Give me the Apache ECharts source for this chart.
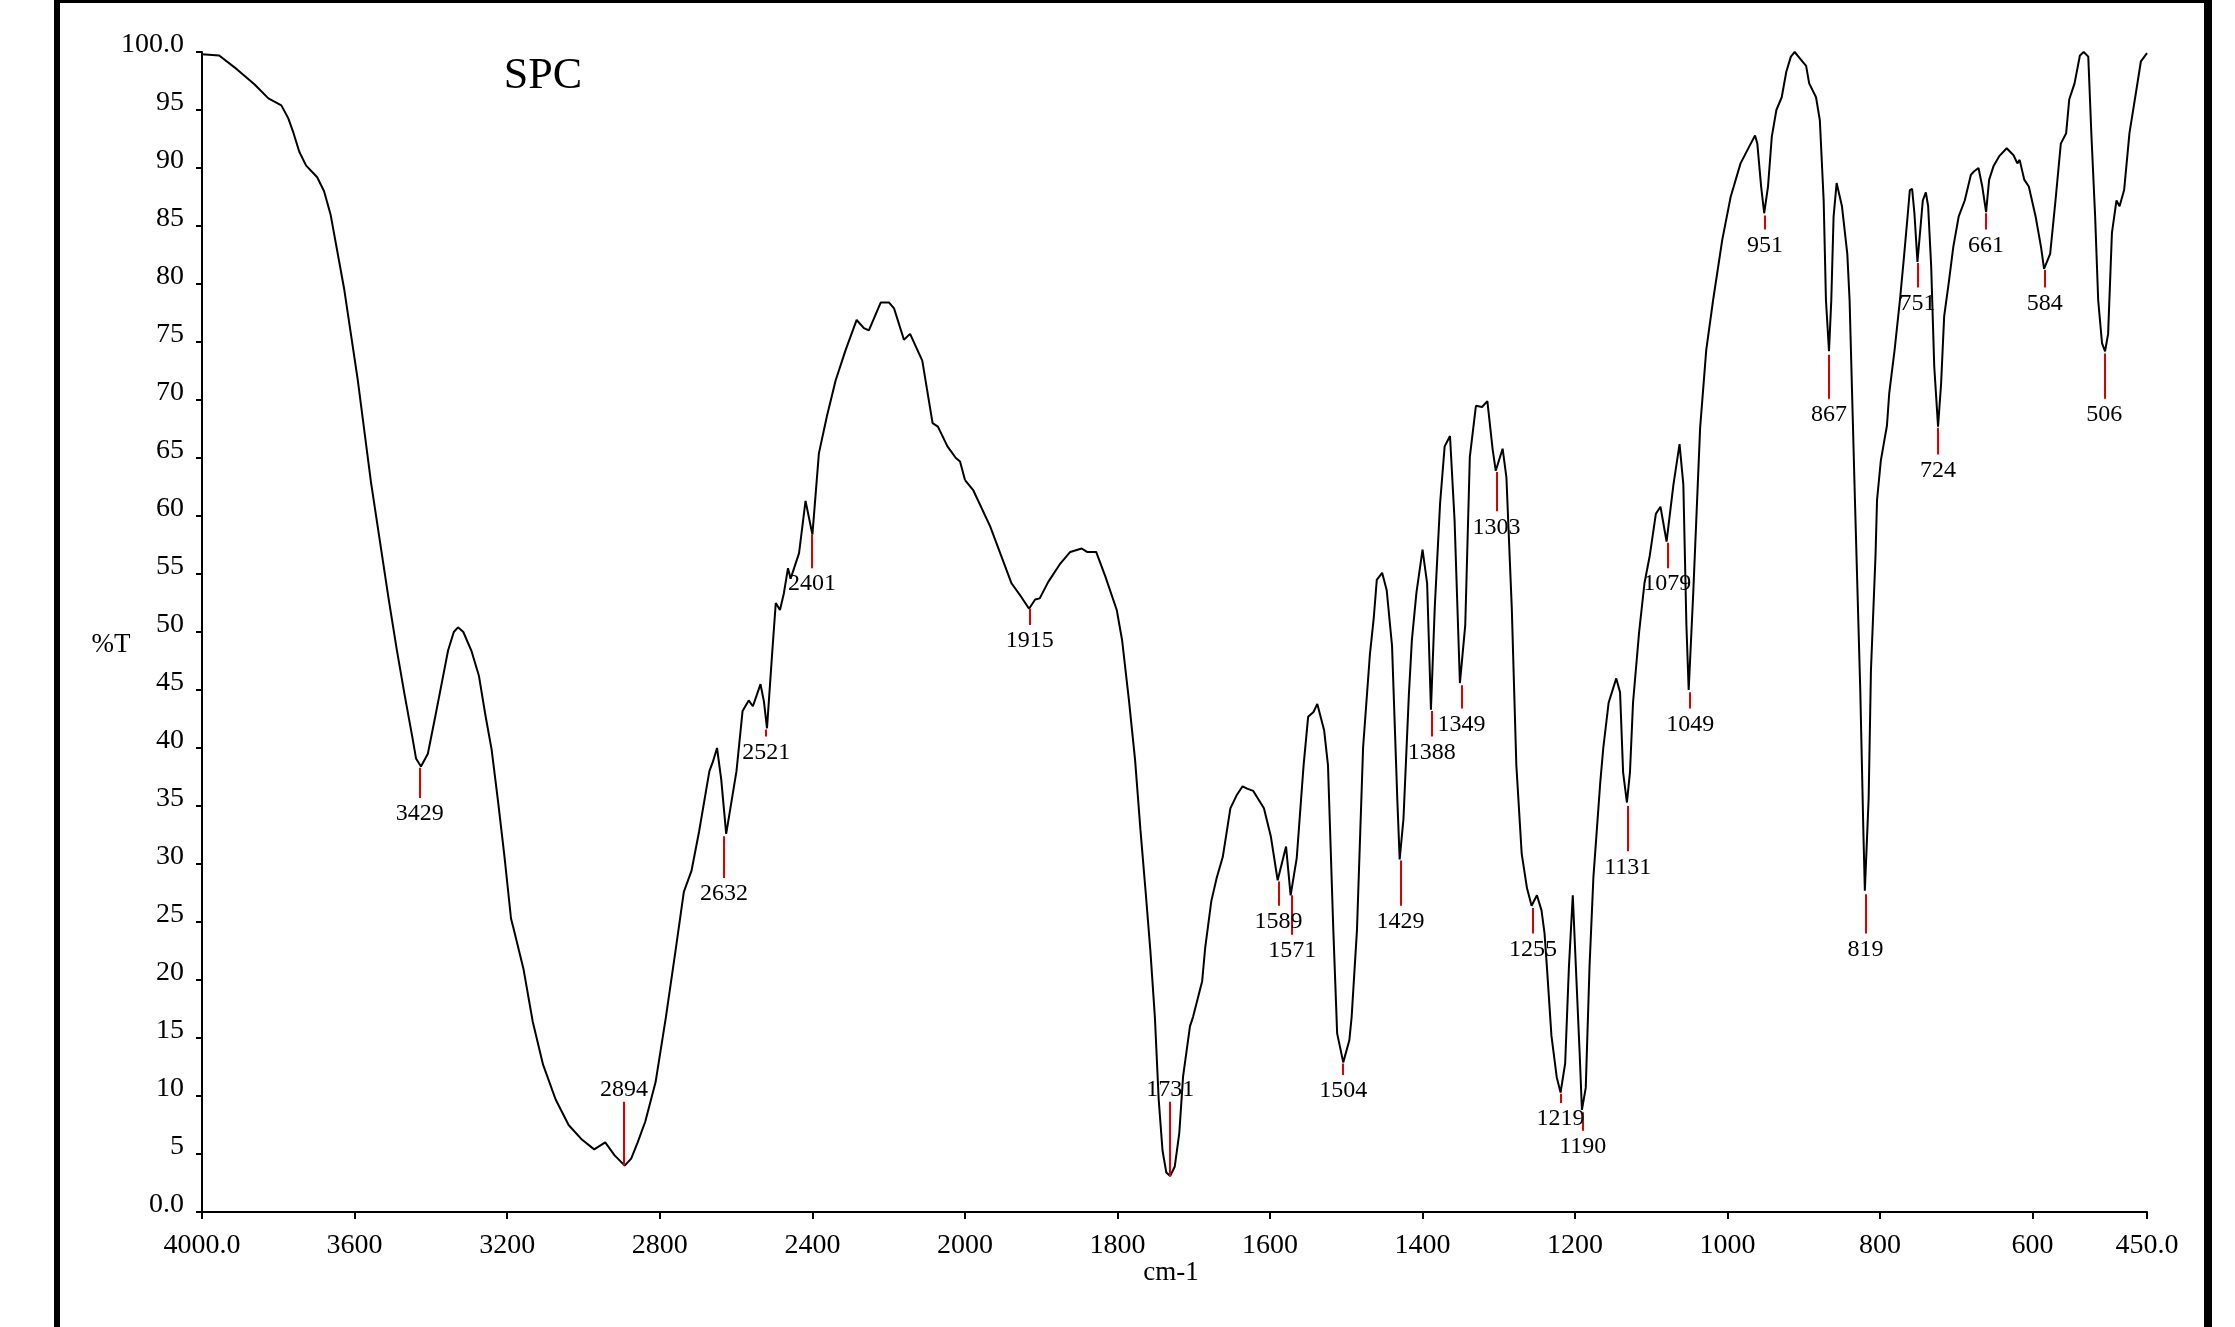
<!DOCTYPE html>
<html>
<head>
<meta charset="utf-8">
<title>SPC</title>
<script src="https://cdn.jsdelivr.net/npm/echarts@6/dist/echarts.min.js"></script>
<style>
  html, body { margin: 0; padding: 0; background: #fff; }
  #chart { width: 2235px; height: 1327px; }
</style>
</head>
<body>
<div id="chart"></div>
<script>
"use strict";
// spectrum, wavenumber (cm-1) and %T
var wavenumber = [
    4000, 3955, 3908, 3862, 3826, 3792, 3774, 3760, 3745, 3727, 3698, 3680, 3663, 3627, 3592, 3557, 3511, 3489,
    3469, 3449, 3439, 3426, 3408, 3388, 3368, 3355, 3340, 3329, 3315, 3294, 3274, 3257, 3241, 3224, 3207, 3190,
    3183, 3157, 3133, 3106, 3073, 3039, 3006, 2972, 2943, 2919, 2892, 2875, 2858, 2838, 2811, 2784, 2758, 2737,
    2717, 2697, 2670, 2661, 2650, 2639, 2626, 2612, 2599, 2583, 2567, 2556, 2536, 2527, 2519, 2514, 2505, 2496,
    2485, 2475, 2464, 2457, 2435, 2418, 2400, 2383, 2362, 2339, 2313, 2284, 2265, 2252, 2221, 2199, 2186, 2160,
    2144, 2112, 2085, 2071, 2046, 2024, 2013, 2000,
    1989, 1967, 1939, 1926, 1916, 1908, 1902, 1891, 1875, 1862, 1847, 1840, 1828, 1816, 1801, 1794, 1785, 1777,
    1770, 1763, 1757, 1751, 1746, 1741, 1736, 1731, 1725, 1719, 1714, 1705, 1701, 1689, 1685, 1677, 1670, 1662,
    1652, 1644, 1636, 1630, 1622, 1608, 1599, 1590, 1579, 1573, 1565, 1556, 1550, 1543, 1538, 1529, 1524, 1517,
    1512, 1504, 1496, 1493, 1486, 1478, 1469, 1464, 1460, 1453, 1447, 1440, 1433, 1430, 1425, 1418, 1414, 1408,
    1400, 1394, 1389, 1384, 1377, 1371, 1364, 1358, 1351, 1344, 1338, 1330, 1322, 1315, 1308, 1304, 1295, 1290,
    1283, 1277, 1270, 1263, 1257, 1250, 1244, 1240, 1237, 1231, 1224, 1219, 1213, 1208, 1203, 1199, 1194, 1191,
    1186, 1181, 1176, 1167, 1163, 1156, 1146, 1141, 1137, 1132, 1128, 1124, 1116, 1109, 1102, 1094, 1088, 1080,
    1071, 1063, 1058, 1054, 1051, 1045, 1036, 1028, 1019, 1007, 996, 983, 972, 964, 961, 956, 952, 947,
    942, 936, 929, 923, 917, 912, 902, 897, 893, 884, 879, 874, 871, 867, 864, 861, 857, 850,
    843, 840, 833, 826, 822, 820, 815, 812, 806, 804, 799, 791, 788, 781, 774, 769, 764, 761,
    758, 755, 751, 747, 744, 740, 737, 733, 729, 724, 720, 716, 710, 704, 697, 689, 681, 677,
    671, 666, 661, 657, 651, 644, 634, 625, 620, 617, 611, 605, 596, 589, 585, 577, 570, 563,
    556, 552, 545, 538, 533, 527, 523, 518, 514, 509, 505, 501, 496, 490, 486, 480, 473, 464,
    458, 450
];
var transmittance = [
    99.8, 99.7, 98.5, 97.2, 96.0, 95.4, 94.3, 93.0, 91.4, 90.2, 89.2, 88.0, 86.0, 79.5, 71.8, 62.9, 52.9, 48.4,
    44.6, 41.0, 39.1, 38.4, 39.5, 42.8, 46.2, 48.4, 50.0, 50.4, 50.0, 48.4, 46.2, 42.8, 39.9, 35.4, 30.6, 25.3,
    24.4, 20.9, 16.4, 12.7, 9.7, 7.5, 6.3, 5.4, 6.0, 4.9, 4.0, 4.6, 6.0, 7.8, 11.2, 16.8, 22.7, 27.6,
    29.4, 32.8, 38.0, 38.8, 40.0, 37.3, 32.6, 35.4, 38.0, 43.2, 44.1, 43.6, 45.5, 44.0, 41.7, 44.1, 48.4, 52.5,
    51.9, 53.3, 55.5, 54.6, 56.8, 61.3, 58.4, 65.4, 68.6, 71.7, 74.3, 76.9, 76.2, 76.0, 78.4, 78.4, 77.9, 75.2,
    75.7, 73.4, 68.0, 67.7, 66.0, 65.0, 64.7, 63.1,
    62.2, 59.1, 54.2, 53.0, 52.0, 52.8, 52.9, 54.3, 55.9, 56.9, 57.2, 56.9, 56.9, 54.8, 51.9, 49.3, 44.1, 39.0,
    33.0, 27.5, 22.6, 16.8, 9.7, 5.3, 3.4, 3.1, 3.9, 6.8, 11.7, 16.0, 16.8, 19.9, 22.8, 26.8, 28.8, 30.6,
    34.8, 35.9, 36.7, 36.5, 36.3, 34.8, 32.4, 28.6, 31.5, 27.3, 30.5, 38.5, 42.7, 43.1, 43.8, 41.5, 38.5, 24.3,
    15.4, 12.9, 14.8, 16.8, 24.3, 40.0, 48.1, 51.2, 54.5, 55.1, 53.6, 48.8, 35.4, 30.4, 33.9, 44.5, 49.3, 53.4,
    57.1, 54.2, 43.3, 52.1, 61.1, 66.0, 66.9, 59.6, 45.6, 50.6, 65.1, 69.5, 69.4, 69.9, 65.7, 63.9, 65.8, 63.3,
    52.1, 38.5, 30.9, 27.9, 26.4, 27.3, 26.0, 24.0, 21.2, 15.2, 11.6, 10.3, 12.8, 21.2, 27.3, 21.2, 13.7, 8.8,
    10.7, 21.2, 28.8, 37.0, 40.0, 43.9, 46.0, 44.8, 37.9, 35.3, 37.9, 43.9, 50.0, 54.2, 56.6, 60.2, 60.8, 57.8,
    62.7, 66.2, 62.7, 50.6, 45.0, 53.4, 67.6, 74.3, 78.6, 83.8, 87.5, 90.4, 91.8, 92.8, 92.1, 88.4, 86.1, 88.4,
    92.7, 95.0, 96.1, 98.3, 99.6, 100.0, 99.2, 98.8, 97.3, 96.1, 94.1, 87.2, 78.6, 74.2, 78.6, 85.8, 88.7, 86.7,
    82.6, 78.6, 61.4, 45.0, 33.0, 27.7, 35.7, 46.7, 56.6, 61.4, 64.8, 67.8, 70.6, 74.3, 78.6, 82.1, 85.8, 88.1,
    88.2, 86.1, 81.9, 84.9, 87.2, 87.9, 86.7, 81.5, 72.9, 67.7, 71.4, 77.2, 80.1, 83.2, 85.8, 87.2, 89.4, 89.7,
    90.0, 88.4, 86.2, 89.0, 90.2, 91.0, 91.7, 91.1, 90.4, 90.7, 89.0, 88.4, 85.8, 83.2, 81.3, 82.6, 87.2, 92.1,
    93.0, 95.9, 97.3, 99.7, 100.0, 99.6, 93.0, 85.8, 78.6, 74.9, 74.2, 75.7, 84.4, 87.2, 86.7, 88.1, 93.0, 96.7,
    99.2, 99.9
];

// picked peaks: red tick from the trough (%T) to the tick end (%T)
var peakWave = [3429, 2894, 2632, 2521, 2401, 1915, 1731, 1589, 1571, 1504, 1429, 1388, 1349, 1303,
    1255, 1219, 1190, 1131, 1079, 1049, 951, 867, 819, 751, 724, 661, 584, 506];
var peakFrom = [38.3, 4.0, 32.4, 41.6, 58.4, 52.0, 3.1, 28.5, 27.3, 12.8, 30.3, 43.2, 45.4, 63.8,
    26.2, 10.2, 8.6, 35.0, 57.7, 44.8, 85.9, 73.9, 27.4, 81.8, 67.6, 86.1, 81.2, 74.0];
var peakTo = [35.7, 9.5, 28.8, 41.0, 55.5, 50.6, 9.5, 26.4, 23.9, 11.8, 26.4, 41.0, 43.4, 60.4,
    24.0, 9.4, 7.0, 31.1, 55.5, 43.4, 84.7, 70.1, 24.0, 79.7, 65.3, 84.7, 79.7, 70.1];

var xTicksHigh = [4000, 3600, 3200, 2800, 2400, 2000];
var xLabelsHigh = [4000, 3600, 3200, 2800, 2400];
var xTicksLow = [2000, 1800, 1600, 1400, 1200, 1000, 800, 600, 450];
var BREAK = 2000;

var FONT = "Liberation Serif";
var RED = "#dd0000";

function pointsIn(test) {
    var out = [];
    for (var i = 0; i < wavenumber.length; i++) {
        if (test(wavenumber[i])) out.push([wavenumber[i], transmittance[i]]);
    }
    return out;
}

function peakLines(test) {
    var out = [];
    for (var i = 0; i < peakWave.length; i++) {
        if (!test(peakWave[i])) continue;
        var up = peakTo[i] > peakFrom[i];
        out.push([
            { coord: [peakWave[i], peakFrom[i]], name: String(peakWave[i]) },
            { coord: [peakWave[i], peakTo[i]], label: { distance: up ? 0 : 4 } }
        ]);
    }
    return out;
}

function xLabel(v) {
    if (v === 4000) return "4000.0";
    if (v === 450) return "450.0";
    return String(v);
}

function xAxis(idx, min, max, ticks, labels) {
    return {
        type: "value", gridIndex: idx, inverse: true, min: min, max: max,
        axisLine: { show: true, onZero: false, lineStyle: { color: "#000", width: 2 } },
        axisTick: { show: true, inside: false, length: 7, customValues: ticks, lineStyle: { color: "#000", width: 2 } },
        axisLabel: {
            customValues: labels, margin: 20, color: "#000", fontFamily: FONT, fontSize: 28,
            formatter: xLabel
        },
        splitLine: { show: false }
    };
}

function spectrum(idx, data, marks) {
    return {
        type: "line", xAxisIndex: idx, yAxisIndex: idx, data: data,
        showSymbol: false, symbol: "none", smooth: false,
        lineStyle: { color: "#000", width: 2 },
        markLine: {
            silent: true, symbol: ["none", "none"], animation: false,
            lineStyle: { color: RED, width: 2, type: "solid" },
            label: {
                show: true, position: "end", formatter: "{b}",
                color: "#000", fontFamily: FONT, fontSize: 24
            },
            data: marks
        }
    };
}

var chart = echarts.init(document.getElementById("chart"), null, { renderer: "canvas" });

var option = {
    backgroundColor: "#fff",
    animation: false,
    grid: [
        { left: 202, top: 52, width: 763, height: 1160 },
        { left: 965, top: 52, width: 1182, height: 1160 }
    ],
    xAxis: [
        xAxis(0, BREAK, 4000, xTicksHigh, xLabelsHigh),
        xAxis(1, 450, BREAK, xTicksLow, xTicksLow)
    ],
    yAxis: [
        {
            type: "value", gridIndex: 0, min: 0, max: 100, interval: 5,
            axisLine: { show: true, lineStyle: { color: "#000", width: 2 } },
            axisTick: { show: true, length: 6, lineStyle: { color: "#000", width: 2 } },
            axisLabel: {
                margin: 18, color: "#000", fontFamily: FONT, fontSize: 28,
                verticalAlign: "bottom", lineHeight: 15,
                formatter: function (v) {
                    if (v === 0) return "0.0";
                    if (v === 100) return "100.0";
                    return String(v);
                }
            },
            splitLine: { show: false }
        },
        { type: "value", gridIndex: 1, min: 0, max: 100, show: false }
    ],
    series: [
        spectrum(0, pointsIn(function (w) { return w >= BREAK; }), peakLines(function (w) { return w > BREAK; })),
        spectrum(1, pointsIn(function (w) { return w <= BREAK; }), peakLines(function (w) { return w <= BREAK; }))
    ],
    graphic: [
        // frame of the exported page
        { type: "rect", shape: { x: 54, y: 0, width: 6, height: 1327 }, style: { fill: "#000" }, silent: true },
        { type: "rect", shape: { x: 2204, y: 0, width: 8, height: 1327 }, style: { fill: "#000" }, silent: true },
        { type: "rect", shape: { x: 54, y: 0, width: 2158, height: 3 }, style: { fill: "#000" }, silent: true },
        {
            type: "text", x: 543, y: 76, silent: true,
            style: { text: "SPC", fill: "#000", font: "44px '" + FONT + "'", align: "center", verticalAlign: "middle" }
        },
        {
            type: "text", x: 111, y: 645, silent: true,
            style: { text: "%T", fill: "#000", font: "27px '" + FONT + "'", align: "center", verticalAlign: "middle" }
        },
        {
            type: "text", x: 1171, y: 1273, silent: true,
            style: { text: "cm-1", fill: "#000", font: "27px '" + FONT + "'", align: "center", verticalAlign: "middle" }
        }
    ]
};

chart.setOption(option);
</script>
</body>
</html>
